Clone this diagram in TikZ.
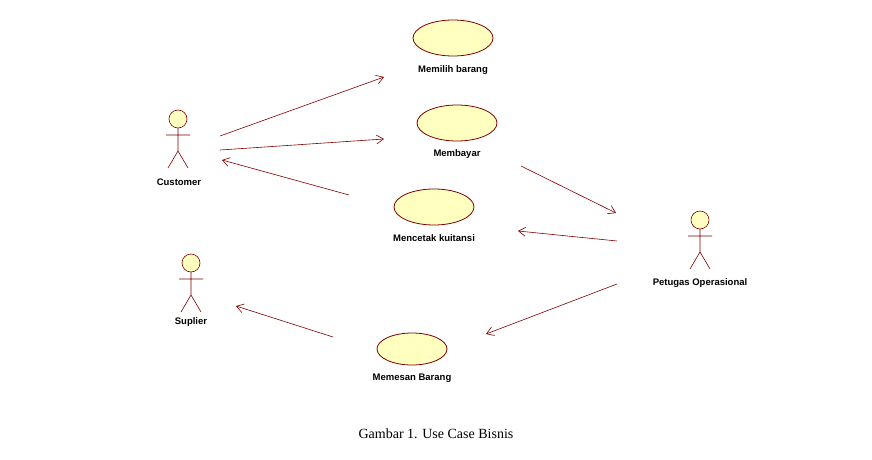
\documentclass[tikz,border=0pt]{standalone}
\usepackage{fontspec}
\setmainfont{Liberation Serif}
\newfontfamily\lab{Liberation Sans}
\usetikzlibrary{arrows.meta,shapes.geometric}
\definecolor{dred}{RGB}{128,0,0}
\definecolor{uyel}{RGB}{255,255,192}
\tikzset{
 uc/.style={ellipse,draw=dred,fill=uyel,line width=0.8pt,minimum width=80pt,minimum height=36pt,inner sep=0pt},
 lbl/.style={font=\lab\fontsize{9.5}{11}\selectfont\bfseries,inner sep=0pt},
 conn/.style={draw=dred,line width=0.6pt,-{Straight Barb[length=7pt,width=9pt]}},
 actor/.pic={
  \draw[dred,fill=uyel,line width=0.6pt] (0pt,0pt) circle (9pt);
  \draw[dred,line width=0.6pt] (0pt,-9pt) -- (0pt,-32pt) (-12pt,-16pt) -- (12pt,-16pt) (0pt,-32pt) -- (-10pt,-49pt) (0pt,-32pt) -- (10pt,-49pt);
 }
}
\begin{document}
\begin{tikzpicture}[x=1pt,y=-1pt]
\useasboundingbox (0,0) rectangle (872,460);
\pic at (178,119) {actor};
\node[lbl] (customer) at (179,182) {Customer};
\pic at (191,263) {actor};
\node[lbl] (suplier) at (191,322) {Suplier};
\pic at (700,220) {actor};
\node[lbl] (petugas) at (700,283) {Petugas Operasional};
\node[uc] (e1) at (453,38) {};
\node[lbl] (l1) at (453,70) {Memilih barang};
\node[uc] (e2) at (457,123) {};
\node[lbl] (l2) at (457,154) {Membayar};
\node[uc] (e3) at (434,207) {};
\node[lbl] (l3) at (434,238) {Mencetak kuitansi};
\node[uc,minimum width=70pt,minimum height=32pt] (e4) at (412,349) {};
\node[lbl] (l4) at (412,378) {Memesan Barang};
\coordinate (c1) at (220,136); \coordinate (t1) at (384,77);
\coordinate (c2) at (220,150); \coordinate (t2) at (384,139);
\coordinate (s3) at (349,195); \coordinate (c3) at (222,160);
\coordinate (s4) at (521,166); \coordinate (p4) at (616,213);
\coordinate (p5) at (617,241); \coordinate (t5) at (518,231);
\coordinate (p6) at (617,284); \coordinate (t6) at (486,334);
\coordinate (s7) at (333,337); \coordinate (u7) at (236,306);
\draw[conn] (c1) -- (t1);
\draw[conn] (c2) -- (t2);
\draw[conn] (s3) -- (c3);
\draw[conn] (s4) -- (p4);
\draw[conn] (p5) -- (t5);
\draw[conn] (p6) -- (t6);
\draw[conn] (s7) -- (u7);
\node[font=\fontsize{14}{16}\selectfont] (cap) at (436,434) {Gambar 1. Use Case Bisnis};
\end{tikzpicture}
\end{document}
